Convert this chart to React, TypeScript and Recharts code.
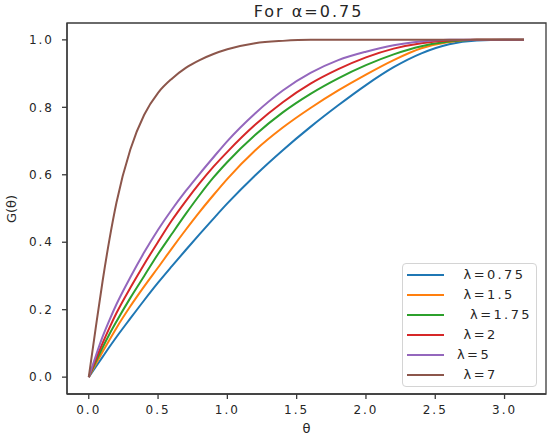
import { LineChart, Line, XAxis, YAxis, Legend, Label, ReferenceArea } from "recharts";

const thetas = [0, 0.05, 0.1, 0.15, 0.2, 0.3, 0.4, 0.5, 0.6, 0.7, 0.8, 0.9, 1.0, 1.2, 1.4, 1.6, 1.8, 2.0, 2.2, 2.4, 2.6, 2.8, 3.0, 3.14];

const g075 = [0, 0.03, 0.06, 0.09, 0.119, 0.174, 0.228, 0.28, 0.329, 0.377, 0.424, 0.47, 0.515, 0.598, 0.673, 0.742, 0.806, 0.866, 0.919, 0.96, 0.987, 0.998, 1, 1];
const g15 = [0, 0.038, 0.075, 0.111, 0.146, 0.21, 0.269, 0.325, 0.382, 0.437, 0.49, 0.54, 0.588, 0.672, 0.74, 0.798, 0.85, 0.897, 0.94, 0.975, 0.994, 1, 1, 1];
const g175 = [0, 0.045, 0.088, 0.128, 0.165, 0.235, 0.3, 0.365, 0.425, 0.484, 0.54, 0.592, 0.638, 0.718, 0.785, 0.84, 0.886, 0.925, 0.957, 0.981, 0.995, 1, 1, 1];
const g2 = [0, 0.052, 0.101, 0.147, 0.19, 0.265, 0.335, 0.401, 0.465, 0.522, 0.575, 0.624, 0.668, 0.748, 0.815, 0.87, 0.913, 0.948, 0.974, 0.99, 0.998, 1, 1, 1];
const g5 = [0, 0.062, 0.12, 0.17, 0.216, 0.296, 0.37, 0.437, 0.497, 0.552, 0.603, 0.652, 0.7, 0.782, 0.85, 0.902, 0.94, 0.965, 0.984, 0.995, 1, 1, 1, 1];
const g7 = [0, 0.145, 0.285, 0.41, 0.518, 0.675, 0.778, 0.843, 0.885, 0.917, 0.94, 0.958, 0.972, 0.99, 0.997, 1, 1, 1, 1, 1, 1, 1, 1, 1];

const xTicks = [0, 0.5, 1.0, 1.5, 2.0, 2.5, 3.0];
const yTicks = [0, 0.2, 0.4, 0.6, 0.8, 1.0];

const series = [
  { key: "g075", name: " λ=0.75", values: g075, color: "#1f77b4" },
  { key: "g15", name: " λ=1.5", values: g15, color: "#ff7f0e" },
  { key: "g175", name: "  λ=1.75", values: g175, color: "#2ca02c" },
  { key: "g2", name: " λ=2", values: g2, color: "#d62728" },
  { key: "g5", name: "λ=5", values: g5, color: "#9467bd" },
  { key: "g7", name: " λ=7", values: g7, color: "#8c564b" },
];

const data = thetas.map((t, i) => {
  const row: Record<string, number> = { theta: t };
  series.forEach((s) => (row[s.key] = s.values[i]));
  return row;
});

const xDomain = [-0.157, 3.299];
const yDomain = [-0.05, 1.05];
const axisColor = "#3a3a3a";
const textColor = "#262626";
const tickStyle = { fill: textColor, fontSize: 12, letterSpacing: 2 };

// legend drawn in the order of the series list (matplotlib order)
const renderLegend = () => (
  <div
    style={{
      boxSizing: "border-box",
      width: 135,
      height: 124,
      border: "1px solid #d4d4d4",
      borderRadius: 4,
      background: "rgba(255,255,255,0.85)",
      position: "relative",
    }}
  >
    {series.map((s, i) => (
      <div key={s.key} style={{ position: "absolute", left: 0, top: 1 + i * 20, height: 20, width: 133 }}>
        <div style={{ position: "absolute", left: 4, top: 9, width: 37, height: 2, background: s.color }} />
        <div
          style={{
            position: "absolute",
            left: 54,
            top: 0,
            lineHeight: "20px",
            fontSize: 13,
            letterSpacing: 2.4,
            color: textColor,
            whiteSpace: "pre",
          }}
        >
          {s.name}
        </div>
      </div>
    ))}
  </div>
);

export default function App() {
  return (
    <div style={{ position: "absolute", left: 0, top: 0, width: 550, height: 437, background: "#fff", fontFamily: "DejaVu Sans" }}>
      <div
        style={{
          position: "absolute",
          left: 0,
          top: 2,
          width: 617,
          textAlign: "center",
          fontSize: 16,
          letterSpacing: 2,
          color: textColor,
        }}
      >
        For α=0.75
      </div>
      <LineChart width={550} height={437} data={data} margin={{ top: 23, right: 4, bottom: 0, left: 0 }}>
        <XAxis
          dataKey="theta"
          type="number"
          domain={xDomain}
          ticks={xTicks}
          allowDataOverflow
          tickFormatter={(v) => v.toFixed(1)}
          height={43}
          tickSize={5}
          tickMargin={6}
          tick={tickStyle}
          stroke={axisColor}
          strokeWidth={1.3}
        >
          <Label value="θ" position="insideBottom" offset={4} fill={textColor} fontSize={13} />
        </XAxis>
        <YAxis
          type="number"
          domain={yDomain}
          ticks={yTicks}
          allowDataOverflow
          tickFormatter={(v) => v.toFixed(1)}
          width={67}
          tickSize={5}
          tickMargin={8}
          tick={tickStyle}
          stroke={axisColor}
          strokeWidth={1.3}
        >
          <Label
            content={() => (
              <text x={12} y={209} transform="rotate(-90 12 209)" textAnchor="middle" dominantBaseline="middle" fill={textColor} fontSize={13}>
                G(θ)
              </text>
            )}
          />
        </YAxis>
        <ReferenceArea
          x1={xDomain[0]}
          x2={xDomain[1]}
          y1={yDomain[0]}
          y2={yDomain[1]}
          fill="none"
          fillOpacity={0}
          stroke={axisColor}
          strokeWidth={1.3}
          ifOverflow="visible"
        />
        <Legend
          layout="vertical"
          align="center"
          verticalAlign="middle"
          content={renderLegend}
          wrapperStyle={{ left: 402, top: 263, width: 135, height: 124 }}
        />
        {series.map((s) => (
          <Line
            key={s.key}
            dataKey={s.key}
            name={s.name}
            type="monotone"
            stroke={s.color}
            strokeWidth={2}
            dot={false}
            activeDot={false}
            isAnimationActive={false}
          />
        ))}
      </LineChart>
    </div>
  );
}
